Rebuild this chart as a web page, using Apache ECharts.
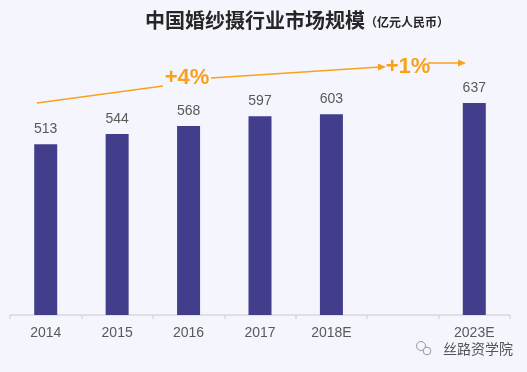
<!DOCTYPE html>
<html><head><meta charset="utf-8">
<script src="https://cdn.jsdelivr.net/npm/echarts@6/dist/echarts.min.js"></script>
<style>html,body{margin:0;padding:0;background:#F5F6FD;}#c{width:527px;height:372px;}</style>
</head><body><div id="c"></div>
<script>
const categories = ['2014', '2015', '2016', '2017', '2018E', '', '2023E'];
const values = [513, 544, 568, 597, 603, null, 637];
const growthLabels = ['+4%', '+1%'];
const titleMain = '中国婚纱摄行业市场规模';
const titleUnit = '（亿元人民币）';
const sourceText = '丝路资学院';

const orange = '#F9A11B';
const chart = echarts.init(document.getElementById('c'), null, {renderer: 'canvas'});
chart.setOption({
  backgroundColor: '#F5F6FD',
  animation: false,
  title: {
    text: '{a|' + titleMain + '}{b|' + titleUnit + '}',
    left: 140, top: 5,
    textStyle: {
      rich: {
        a: {fontSize: 20, fontWeight: 'bold', color: '#262626', fontFamily: 'Noto Sans CJK SC'},
        b: {fontSize: 12, fontWeight: 'bold', color: '#262626', fontFamily: 'Noto Sans CJK SC', padding: [4, 0, 0, 0]}
      }
    }
  },
  grid: {left: 10, right: 17, top: 82, bottom: 57},
  xAxis: {
    type: 'category', data: categories,
    axisLine: {lineStyle: {color: '#D9D9D9', width: 1.5}},
    axisTick: {show: true, length: 4, lineStyle: {color: '#D9D9D9', width: 1.5}},
    axisLabel: {color: '#595959', fontSize: 14, fontFamily: 'Liberation Sans', margin: 11}
  },
  yAxis: {type: 'value', min: 0, max: 700, show: false, splitLine: {show: false}},
  series: [{
    type: 'bar', data: values, barWidth: 23,
    itemStyle: {color: '#433E8C'},
    label: {show: true, position: 'top', distance: 8, color: '#595959', fontSize: 14, fontFamily: 'Liberation Sans'}
  }],
  graphic: [
    {type: 'polyline', shape: {points: [[37, 103], [163, 86]]}, style: {stroke: orange, lineWidth: 1.5, fill: null}},
    {type: 'text', x: 187, y: 78, style: {text: growthLabels[0], fill: orange, fontSize: 22, fontWeight: 'bold', fontFamily: 'Liberation Sans', align: 'center', verticalAlign: 'middle'}},
    {type: 'polyline', shape: {points: [[211, 78], [380, 67]]}, style: {stroke: orange, lineWidth: 1.5, fill: null}},
    {type: 'polygon', shape: {points: [[386, 67], [378, 63.5], [378, 70.5]]}, style: {fill: orange}},
    {type: 'text', x: 408, y: 67, style: {text: growthLabels[1], fill: orange, fontSize: 22, fontWeight: 'bold', fontFamily: 'Liberation Sans', align: 'center', verticalAlign: 'middle'}},
    {type: 'polyline', shape: {points: [[428, 63], [459, 63]]}, style: {stroke: orange, lineWidth: 1.5, fill: null}},
    {type: 'polygon', shape: {points: [[466, 63], [458, 59.5], [458, 66.5]]}, style: {fill: orange}},
    {type: 'circle', shape: {cx: 421, cy: 346, r: 4.5}, style: {fill: 'none', stroke: '#9A9A9A', lineWidth: 1}},
    {type: 'circle', shape: {cx: 427, cy: 351, r: 3.8}, style: {fill: '#F5F6FD', stroke: '#9A9A9A', lineWidth: 1}},
    {type: 'text', x: 443, y: 349, style: {text: sourceText, fill: '#555555', fontSize: 14, fontFamily: 'Noto Sans CJK SC', align: 'left', verticalAlign: 'middle'}}
  ]
});
</script></body></html>
